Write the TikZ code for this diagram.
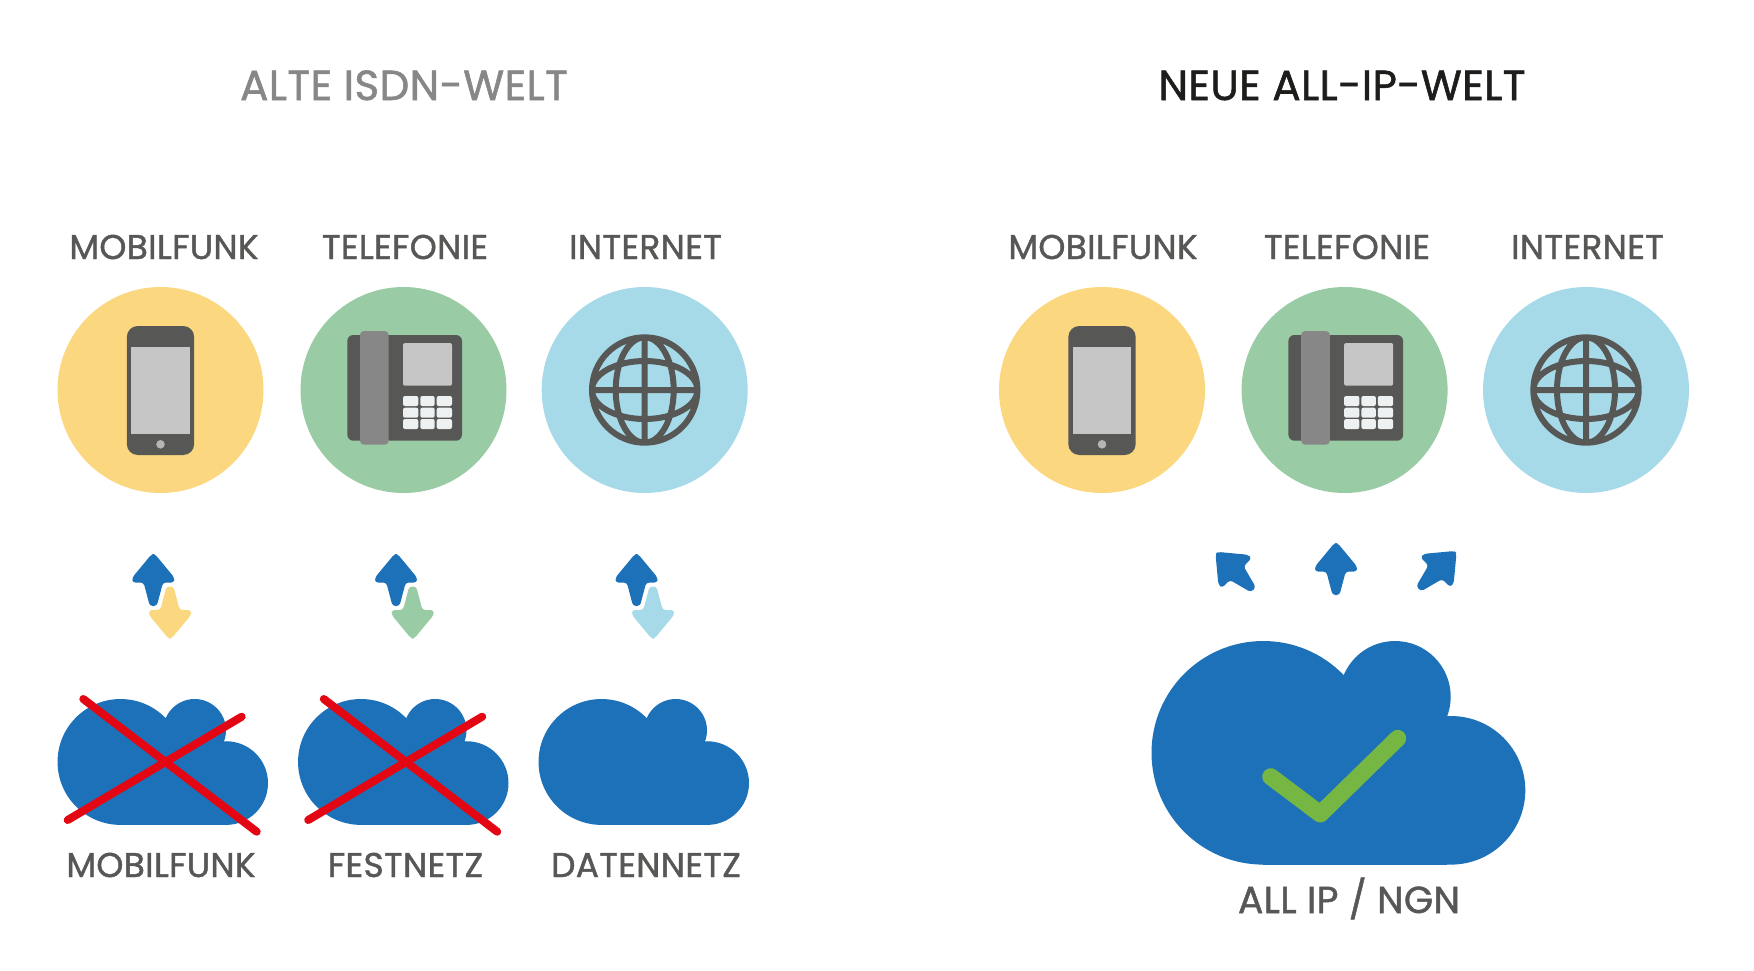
\documentclass[tikz,border=0pt]{standalone}
\usepackage{fontspec}
\setmainfont{Poppins}[FakeBold=1.3, LetterSpace=1]
\usetikzlibrary{positioning}
\definecolor{yellowc}{HTML}{FBD780}
\definecolor{greenc}{HTML}{99CBA5}
\definecolor{bluec}{HTML}{A6DAE9}
\definecolor{darkc}{HTML}{575756}
\definecolor{screenc}{HTML}{C6C6C6}
\definecolor{handc}{HTML}{878787}
\definecolor{keyc}{HTML}{EDF1F2}
\definecolor{cloudc}{HTML}{1D71B8}
\definecolor{crossc}{HTML}{E30613}
\definecolor{checkc}{HTML}{76B743}
\definecolor{titlec}{HTML}{1D1D1B}
\tikzset{
    disc/.style={circle, minimum size=103pt, inner sep=0pt},
    label/.style={font=\fontsize{17.2}{17.2}\selectfont, text=darkc, inner sep=0pt, anchor=base},
    biglabel/.style={label, font=\fontsize{18.8}{18.8}\selectfont},
    title/.style={font=\fontsize{21}{21}\selectfont, inner sep=0pt, anchor=base},
    cross/.style={crossc, line width=4pt, line cap=round},
    pics/handy/.style={code={
        \fill[darkc, rounded corners=5.5pt] (-33.7,-64) rectangle (33.7,65);
        \fill[screenc] (-29.3,-42.7) rectangle (29.3,44.3);
        \fill[screenc!85!darkc] (0,54.3) circle[radius=4.3];
    }},
    pics/apparat/.style={code={
        \fill[darkc, rounded corners=3pt] (-56.2,-55) rectangle (58.5,50.7);
        \fill[handc, rounded corners=2pt] (-43.5,-59) rectangle (-14.8,54.7);
        \fill[screenc, rounded corners=1pt] (-0.5,-47) rectangle (48.5,-4.3);
        \foreach \ky in {6,17.7,29} {
            \fill[keyc, rounded corners=1pt] (-0.5,\ky) rectangle (14.8,\ky+10);
            \fill[keyc, rounded corners=1pt] (16.8,\ky) rectangle (31.2,\ky+10);
            \fill[keyc, rounded corners=1pt] (33.2,\ky) rectangle (48.5,\ky+10);
        }
    }},
    pics/globus/.style={code={
        \draw[darkc, line width=3pt] (0,0) circle[radius=52.7]
            (0,0) circle[x radius=29, y radius=52.7]
            (0,0) circle[x radius=52.7, y radius=29]
            (-52.7,0) -- (52.7,0) (0,-52.7) -- (0,52.7);
    }},
    pics/pfeil/.style={code={
        \fill[#1, rounded corners=1.5pt] (-1.5,-26.5) -- (1.5,-26.5) -- (21,-3) -- (21,2) -- (9.7,2)
            -- (3.5,25.5) -- (-3.5,25.5) -- (-9.7,2) -- (-21,2) -- (-21,-3) -- cycle;
    }},
    pics/wolke/.style={code={
        \fill[cloudc] (111,111.8) circle[radius=111.8];
        \fill[cloudc] (242.7,55.7) circle[radius=55.7];
        \fill[cloudc] (298.7,149.3) circle[radius=74.3];
        \fill[cloudc] (111,75) rectangle (295,223.7);
    }},
}
\begin{document}
\begin{tikzpicture}[x=0.5pt, y=-0.5pt]
\useasboundingbox (0,0) rectangle (1754,970);
% Titles
\node[title, text=handc] (alt) at (404,100) {ALTE ISDN-WELT};
\node[title, text=titlec] (neu) at (1342,100) {NEUE ALL-IP-WELT};

% Old world circles
\node[disc, fill=yellowc] (c1) at (160.5,390) {};
\node[disc, fill=greenc] (c2) at (403.5,390) {};
\node[disc, fill=bluec] (c3) at (644.7,390) {};
\pic at (c1) {handy};
\pic at (c2) {apparat};
\pic at (c3) {globus};

% New world circles
\node[disc, fill=yellowc] (d1) at (1102,390) {};
\node[disc, fill=greenc] (d2) at (1344.6,390) {};
\node[disc, fill=bluec] (d3) at (1586,390) {};
\pic at (d1) {handy};
\pic at (d2) {apparat};
\pic at (d3) {globus};

% Labels above circles
\node[label] (l1) at (164,259) {MOBILFUNK};
\node[label] (l2) at (405,259) {TELEFONIE};
\node[label] (l3) at (645.5,259) {INTERNET};
\node[label] (m1) at (1103,259) {MOBILFUNK};
\node[label] (m2) at (1347,259) {TELEFONIE};
\node[label] (m3) at (1587.5,259) {INTERNET};

% Arrow pairs
\pic at (153.3,580.5) {pfeil=cloudc};
\pic[rotate=180] at (170,612) {pfeil=yellowc};
\pic at (396,580.5) {pfeil=cloudc};
\pic[rotate=180] at (412.7,612) {pfeil=greenc};
\pic at (636.5,580.5) {pfeil=cloudc};
\pic[rotate=180] at (653,612) {pfeil=bluec};

% Arrows above big cloud
\pic[rotate=45] at (1235.3,571.7) {pfeil=cloudc};
\pic at (1336,569.5) {pfeil=cloudc};
\pic[rotate=-45] at (1436.7,570.8) {pfeil=cloudc};

% Small clouds
\pic[scale=0.563] at (58,699) {wolke};
\pic[scale=0.563] at (298.5,699) {wolke};
\pic[scale=0.563] at (539,699) {wolke};
\draw[cross] (83.3,699) -- (256.7,831.7);
\draw[cross] (241.7,716.7) -- (67.7,820);
\draw[cross] (323.8,699) -- (497.2,831.7);
\draw[cross] (482.2,716.7) -- (308.2,820);

% Big cloud
\pic at (1152.3,641) {wolke};
\draw[checkc, line width=8.5pt, line cap=round, line join=round] (1270.7,776.7) -- (1320.3,814) -- (1397.7,738.3);

% Labels below clouds
\node[label] (n1) at (161,877) {MOBILFUNK};
\node[label] (n2) at (405.5,877) {FESTNETZ};
\node[label] (n3) at (646,877) {DATENNETZ};
\node[biglabel] (n4) at (1349,913) {ALL IP / NGN};
\end{tikzpicture}
\end{document}
